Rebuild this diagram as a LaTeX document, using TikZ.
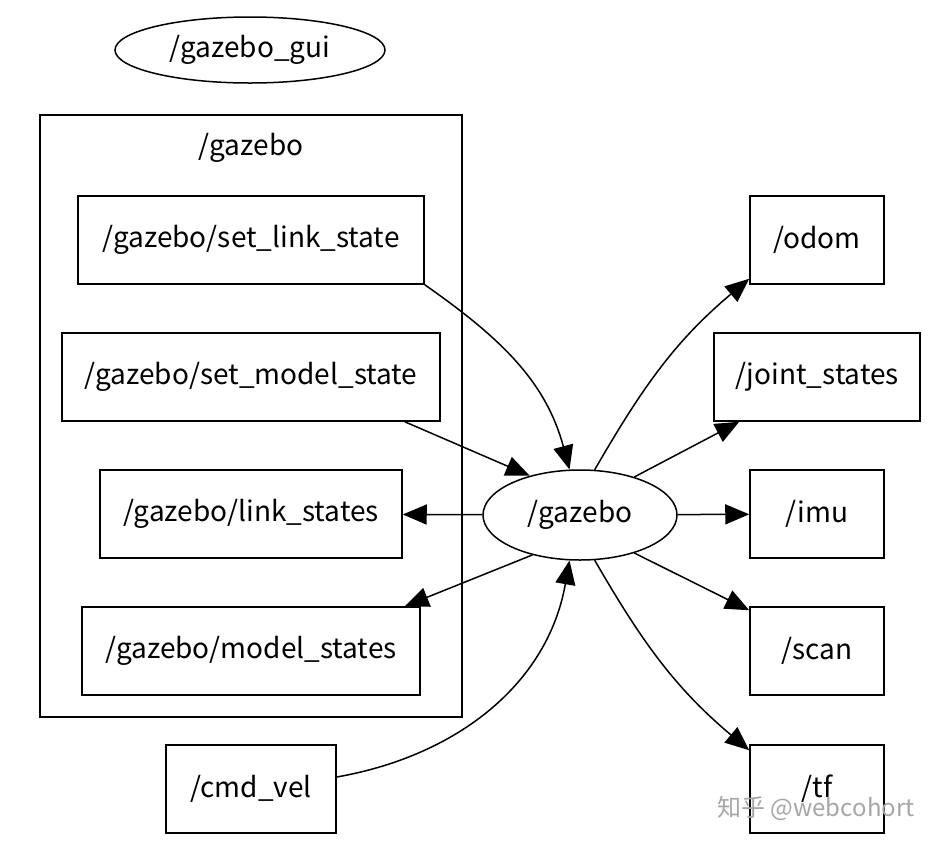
\documentclass[tikz,border=0pt]{standalone}
\usepackage{fontspec}
\setmainfont{Noto Sans CJK SC}
\newfontfamily\cjk{Noto Sans CJK SC}
\usetikzlibrary{arrows.meta,positioning,shapes}
\tikzset{
  topic/.style={draw,line width=1.5pt,inner sep=0pt,minimum height=88pt,font=\fontsize{28}{32}\selectfont},
  nodeell/.style={draw,line width=1.5pt,ellipse,inner sep=0pt,font=\fontsize{28}{32}\selectfont},
  edge/.style={line width=1.5pt,-{Triangle[length=24pt,width=20pt]}}
}
\begin{document}
\begin{tikzpicture}[x=1pt,y=-1pt]
    \useasboundingbox (0,0) rectangle (943,847);
    \node[nodeell,minimum width=270pt,minimum height=66pt] (gui) at (250,50) {/gazebo\_gui};
    % cluster
    \draw[line width=1.5pt] (40,115) rectangle (462,717);
    \node[font=\fontsize{28}{32}\selectfont] (cl) at (251,148) {/gazebo};
    \node[topic,minimum width=346pt] (slink) at (251,240) {/gazebo/set\_link\_state};
    \node[topic,minimum width=378pt] (smodel) at (251,377) {/gazebo/set\_model\_state};
    \node[topic,minimum width=302pt] (links) at (251,514) {/gazebo/link\_states};
    \node[topic,minimum width=338pt] (models) at (251,651) {/gazebo/model\_states};
    \node[topic,minimum width=170pt] (cmd) at (251,789) {/cmd\_vel};
    % main node
    \node[nodeell,minimum width=194pt,minimum height=90pt] (gz) at (580,515) {/gazebo};
    % outputs
    \node[topic,minimum width=134pt] (odom) at (817,240) {/odom};
    \node[topic,minimum width=206pt] (joint) at (817,377) {/joint\_states};
    \node[topic,minimum width=134pt] (imu) at (817,514) {/imu};
    \node[topic,minimum width=134pt] (scan) at (817,651) {/scan};
    \node[topic,minimum width=134pt] (tf) at (817,789) {/tf};
    % connectors
    \draw[edge] (slink.south east) to[out=-35,in=105] (gz.103);
    \draw[edge] ([xshift=-36pt]smodel.south east) -- (gz.142);
    \draw[edge] (gz) -- (links);
    \draw[edge] (gz.220) -- ([xshift=-16pt]models.north east);
    \draw[edge] ([yshift=12pt]cmd.east) to[out=10,in=-100] (gz.-103);
    \draw[edge] (gz.72) to[out=60,in=-140] ([yshift=6pt]odom.south west);
    \draw[edge] (gz.35) -- ([xshift=26pt]joint.south west);
    \draw[edge] (gz) -- (imu);
    \draw[edge] (gz.-35) -- ([yshift=-4pt]scan.north west);
    \draw[edge] (gz.-72) to[out=-60,in=140] ([yshift=-6pt]tf.north west);
    % watermark
    \node[text=black!35,font=\cjk\fontsize{24}{28}\selectfont,anchor=east] (wm) at (918,808) {知乎 @webcohort};
\end{tikzpicture}
\end{document}
